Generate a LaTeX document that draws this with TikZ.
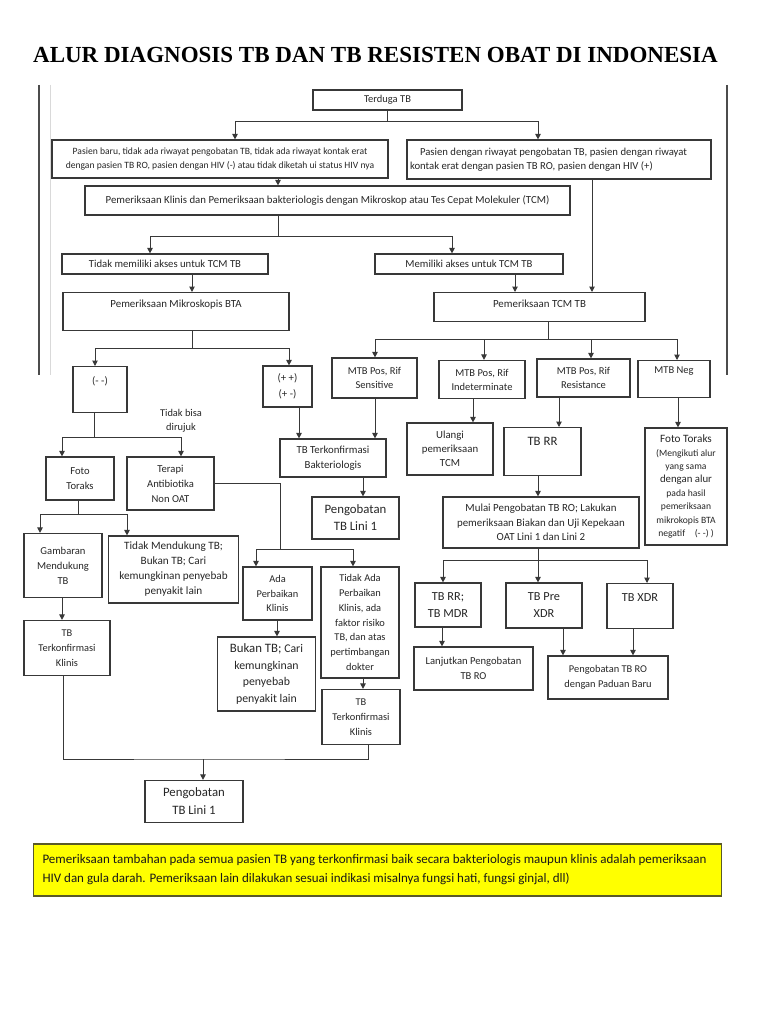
\documentclass[tikz,border=0pt]{standalone}
\usepackage{fontspec}
\setmainfont{Carlito}
\newfontfamily\titlefont{Liberation Serif}
\usetikzlibrary{arrows.meta}
\newcommand\fsz[2]{\fontsize{#1}{#2}\selectfont}
\colorlet{box edge}{black!78}
\colorlet{box text}{black!85}
\definecolor{note fill}{RGB}{255,255,0}
\definecolor{note edge}{RGB}{90,90,40}
\tikzset{box/.style={draw=box edge, line width=1.2pt, align=center, inner sep=2pt, text=box text},
    topbox/.style={box, anchor=north, text height=#1},
    link/.style={draw=box edge, line width=1pt},
    arr/.style={link, -{Triangle[length=5.5pt,width=5.5pt]}},
    frame/.style={draw=black!70, line width=1.3pt}}

\begin{document}
\begin{tikzpicture}[x=1pt, y=-1pt]
    \useasboundingbox (0,0) rectangle (768,1024);
    \node[font=\titlefont\bfseries\fsz{23}{27}] (title) at (375.5,55)
        {ALUR DIAGNOSIS TB DAN TB RESISTEN OBAT DI INDONESIA};
    \draw[frame] (39,85) -- (39,375);
    \draw[frame] (727,85) -- (727,375);
    \draw[black!15, line width=0.8pt] (50,85) -- (50,375);

    % top part
    \node[box, font=\fsz{10.5}{13}, minimum width=149pt, minimum height=20pt] (terduga) at (387.5,100) {Terduga TB};
    \node[box, font=\fsz{9.6}{13.5}, minimum width=336pt, minimum height=38pt] (pasienbaru) at (220,159)
        {Pasien baru, tidak ada riwayat pengobatan TB, tidak ada riwayat kontak erat\\dengan pasien TB RO, pasien dengan HIV (-) atau tidak diketah ui status HIV nya};
    \node[box, font=\fsz{10.7}{14.5}, align=flush left, text width=298pt, inner xsep=3pt, minimum height=39pt] (pasienriwayat) at (559,159.5)
        {\hspace*{10pt}Pasien dengan riwayat pengobatan TB, pasien dengan riwayat\\kontak erat dengan pasien TB RO, pasien dengan HIV (+)};
    \node[box, font=\fsz{10.8}{13}, minimum width=485pt, minimum height=29pt] (klinis) at (327.5,200.5)
        {Pemeriksaan Klinis dan Pemeriksaan bakteriologis dengan Mikroskop atau Tes Cepat Molekuler (TCM)};
    \node[box, font=\fsz{10.7}{13}, minimum width=206pt, minimum height=20pt] (tidakakses) at (165,264) {Tidak memiliki akses untuk TCM TB};
    \node[box, font=\fsz{10.7}{13}, minimum width=188pt, minimum height=20pt] (akses) at (469,264) {Memiliki akses untuk TCM TB};
    \node[topbox=13pt, text depth=21pt, font=\fsz{10.9}{13}, minimum width=226pt] (mikro) at (176,292) {Pemeriksaan Mikroskopis BTA};
    \node[topbox=13pt, text depth=12pt, font=\fsz{10.9}{13}, minimum width=211pt] (tcm) at (539.5,292) {Pemeriksaan TCM TB};

    % hasil BTA dan TCM
    \node[topbox=16pt, text depth=26pt, font=\fsz{10.8}{14}, minimum width=54pt] (negbta) at (100,366) {(- -)};
    \node[box, font=\fsz{10.8}{16}, minimum width=49pt, minimum height=41pt] (posbta) at (287.5,386.5) {(+ +)\\(+ -)};
    \node[box, font=\fsz{10.5}{14}, minimum width=85pt, minimum height=40pt] (sens) at (374.5,378) {MTB Pos, Rif\\Sensitive};
    \node[box, font=\fsz{10.5}{14}, minimum width=86pt, minimum height=38pt] (indet) at (482,379.5) {MTB Pos, Rif\\Indeterminate};
    \node[box, font=\fsz{10.5}{14}, minimum width=93pt, minimum height=38pt] (resist) at (583.5,378) {MTB Pos, Rif\\Resistance};
    \node[topbox=11pt, text depth=22pt, font=\fsz{10.5}{13}, minimum width=72pt] (mtbneg) at (674,360) {MTB Neg};
    \node[font=\fsz{10.4}{14}, text=box text, align=center] (dirujuk) at (181,421) {Tidak bisa\\dirujuk};

    % cabang kiri
    \node[box, font=\fsz{10.6}{15}, minimum width=68pt, minimum height=43pt] (foto) at (80,478.5) {Foto\\Toraks};
    \node[box, font=\fsz{10.6}{15}, minimum width=87pt, minimum height=53pt] (terapi) at (170.5,483.5) {Terapi\\Antibiotika\\Non OAT};
    \node[box, font=\fsz{10.6}{15}, minimum width=78pt, minimum height=64pt] (gambaran) at (63,565.5) {Gambaran\\Mendukung\\TB};
    \node[box, font=\fsz{11.2}{15}, minimum width=130pt, minimum height=67pt] (tidakmend) at (173.5,569.5)
        {Tidak Mendukung TB;\\Bukan TB; Cari\\kemungkinan penyebab\\penyakit lain};
    \node[box, font=\fsz{10.4}{14.5}, minimum width=69pt, minimum height=53pt] (ada) at (277.5,593.5) {Ada\\Perbaikan\\Klinis};
    \node[box, font=\fsz{10.4}{14.8}, minimum width=78pt, minimum height=111pt] (tidakada) at (360,622.5)
        {Tidak Ada\\Perbaikan\\Klinis, ada\\faktor risiko\\TB, dan atas\\pertimbangan\\dokter};
    \node[box, font=\fsz{11.8}{16.5}, minimum width=98pt, minimum height=74pt] (bukan) at (266.5,674)
        {{\fsz{12.8}{16.5}Bukan TB;} Cari\\kemungkinan\\penyebab\\penyakit lain};
    \node[box, font=\fsz{10.4}{15}, minimum width=86pt, minimum height=55pt] (tbklinis1) at (67,648) {TB\\Terkonfirmasi\\Klinis};
    \node[box, font=\fsz{10.4}{15}, minimum width=78pt, minimum height=55pt] (tbklinis2) at (361,717) {TB\\Terkonfirmasi\\Klinis};
    \node[box, font=\fsz{12.8}{18}, minimum width=98pt, minimum height=42pt] (lini1b) at (194,801.5) {Pengobatan\\TB Lini 1};

    % cabang kanan
    \node[box, font=\fsz{10.8}{15}, minimum width=106pt, minimum height=38pt] (bakt) at (333,458) {TB Terkonfirmasi\\Bakteriologis};
    \node[box, font=\fsz{12.8}{17}, minimum width=87pt, minimum height=42pt] (lini1a) at (355.5,518) {Pengobatan\\TB Lini 1};
    \node[box, font=\fsz{10.8}{14}, minimum width=86pt, minimum height=52pt] (ulangi) at (450,449) {Ulangi\\pemeriksaan\\TCM};
    \node[topbox=16pt, text depth=28pt, font=\fsz{12.8}{16}, minimum width=77pt] (tbrr) at (542.5,427) {TB RR};
    \node[box, font=\fsz{9.6}{13.4}, minimum width=82pt, minimum height=117pt] (fotoneg) at (686,486.5)
        {{\fsz{11.2}{13.4}Foto Toraks}\\(Mengikuti alur\\yang sama\\{\fsz{10.8}{13.4}dengan alur}\\pada hasil\\pemeriksaan\\mikrokopis BTA\\negatif\quad(- -) )};
    \node[box, font=\fsz{10.9}{14.5}, minimum width=196pt, minimum height=51pt] (mulai) at (541,522.5)
        {Mulai Pengobatan TB RO; Lakukan\\pemeriksaan Biakan dan Uji Kepekaan\\OAT Lini 1 dan Lini 2};
    \node[box, font=\fsz{12.3}{17}, minimum width=66pt, minimum height=44pt] (mdr) at (448,605) {TB RR;\\TB MDR};
    \node[box, font=\fsz{12.3}{17}, minimum width=76pt, minimum height=45pt] (prexdr) at (544,605.5) {TB Pre\\XDR};
    \node[topbox=16pt, text depth=25pt, font=\fsz{12.3}{16}, minimum width=66pt] (xdr) at (640,583) {TB XDR};
    \node[box, font=\fsz{10.6}{15}, minimum width=119pt, minimum height=43pt] (lanjut) at (473.5,668.5) {Lanjutkan Pengobatan\\TB RO};
    \node[box, font=\fsz{10.4}{14.5}, minimum width=120pt, minimum height=43pt] (baru) at (608,677.5) {Pengobatan TB RO\\dengan Paduan Baru};

    % catatan
    \node[box, draw=note edge, fill=note fill, text=black!90, font=\fsz{13}{19}, align=flush left,
          text width=670pt, inner xsep=9pt, minimum height=52pt] (note) at (377.5,870)
        {Pemeriksaan tambahan pada semua pasien TB yang terkonfirmasi baik secara bakteriologis maupun klinis adalah pemeriksaan\\HIV dan gula darah. Pemeriksaan lain dilakukan sesuai indikasi misalnya fungsi hati, fungsi ginjal, dll)};

    % alur atas
    \coordinate (t1) at (387.5,122);
    \draw[link] (terduga) -- (t1);
    \draw[arr] (t1) -| (235,0 |- pasienbaru.north);
    \draw[arr] (t1) -| (538,0 |- pasienriwayat.north);
    \draw[arr] (278,0 |- pasienbaru.south) -- (278,0 |- klinis.north);
    \draw[arr] (592,0 |- pasienriwayat.south) -- (592,0 |- tcm.north);
    \coordinate (t2) at (278,236);
    \draw[link] (278,0 |- klinis.south) -- (t2);
    \draw[arr] (t2) -| (150,0 |- tidakakses.north);
    \draw[arr] (t2) -| (452,0 |- akses.north);
    \draw[arr] (192,0 |- tidakakses.south) -- (192,0 |- mikro.north);
    \draw[arr] (515,0 |- akses.south) -- (515,0 |- tcm.north);
    \coordinate (t3) at (192,348);
    \draw[link] (192,0 |- mikro.south) -- (t3);
    \draw[arr] (t3) -| (95,0 |- negbta.north);
    \draw[arr] (t3) -| (289,0 |- posbta.north);
    \coordinate (t4) at (548,339);
    \draw[link] (548,0 |- tcm.south) -- (t4);
    \draw[arr] (t4) -| (375,0 |- sens.north);
    \draw[arr] (t4) -| (677,0 |- mtbneg.north);
    \draw[arr] (t4 -| 484,0) -- (484,0 |- indet.north);
    \draw[arr] (t4 -| 591,0) -- (591,0 |- resist.north);

    % alur kanan
    \draw[arr] (375,0 |- sens.south) -- (375,0 |- bakt.north);
    \draw[arr] (299,0 |- posbta.south) -- (299,0 |- bakt.north);
    \draw[arr] (363,0 |- bakt.south) -- (363,0 |- lini1a.north);
    \draw[arr] (473,0 |- indet.south) -- (473,0 |- ulangi.north);
    \draw[arr] (559,0 |- resist.south) -- (559,0 |- tbrr.north);
    \draw[arr] (678,0 |- mtbneg.south) -- (678,0 |- fotoneg.north);
    \draw[arr] (538,0 |- tbrr.south) -- (538,0 |- mulai.north);
    \coordinate (t5) at (538,560);
    \draw[link] (538,0 |- mulai.south) -- (t5);
    \draw[arr] (t5) -| (443,0 |- mdr.north);
    \draw[arr] (t5) -| (647,0 |- xdr.north);
    \draw[arr] (t5) -- (538,0 |- prexdr.north);
    \draw[arr] (442,0 |- mdr.south) -- (442,0 |- lanjut.north);
    \draw[arr] (563,0 |- prexdr.south) -- (563,0 |- baru.north);
    \draw[arr] (633,0 |- xdr.south) -- (633,0 |- baru.north);

    % alur kiri
    \coordinate (t6) at (94,437);
    \draw[link] (94,0 |- negbta.south) -- (t6);
    \draw[arr] (t6) -| (62,0 |- foto.north);
    \draw[arr] (t6) -| (181,0 |- terapi.north);
    \coordinate (t7) at (78,514);
    \draw[link] (78,0 |- foto.south) -- (t7);
    \draw[arr] (t7) -| (40,0 |- gambaran.north);
    \draw[arr] (t7) -| (127,0 |- tidakmend.north);
    \coordinate (t8) at (280,549);
    \draw[link] (terapi.east) -| (t8);
    \draw[arr] (t8) -| (256,0 |- ada.north);
    \draw[arr] (t8) -| (353,0 |- tidakada.north);
    \draw[arr] (277,0 |- ada.south) -- (277,0 |- bukan.north);
    \draw[arr] (363,0 |- tidakada.south) -- (363,0 |- tbklinis2.north);
    \draw[arr] (62,0 |- gambaran.south) -- (62,0 |- tbklinis1.north);
    \coordinate (t9) at (203,759);
    \draw[link] (63,0 |- tbklinis1.south) |- (t9) -| (368,0 |- tbklinis2.south);
    \draw[arr] (t9) -- (203,0 |- lini1b.north);
\end{tikzpicture}
\end{document}
